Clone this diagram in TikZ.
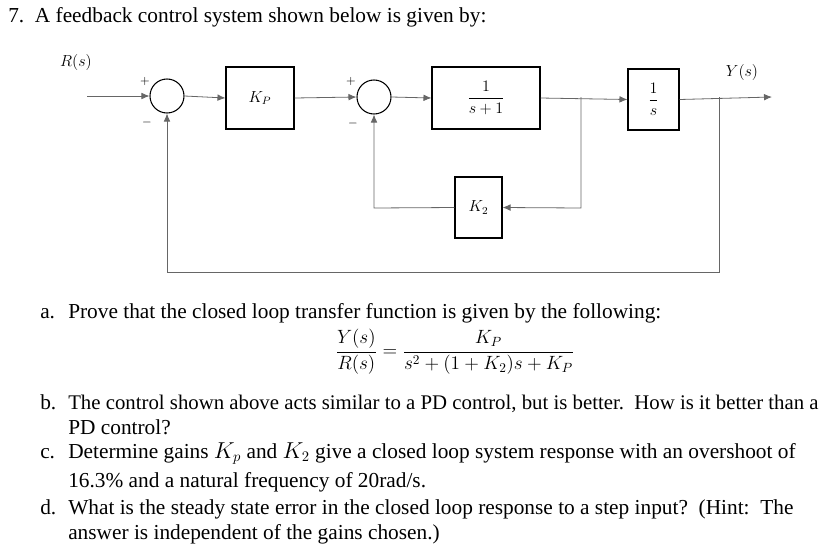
\documentclass[tikz,border=0pt]{standalone}
\usepackage{fontspec}
\setmainfont{Liberation Serif}
\usetikzlibrary{arrows.meta}
\begin{document}
\begin{tikzpicture}[x=0.75pt,y=-0.75pt,
  every node/.style={font=\fontsize{12}{14}\selectfont},
  blk/.style={draw,thick,minimum width=#1*0.75pt,inner sep=0pt},
  sumnode/.style={draw,thick,circle,minimum size=34*0.75pt,inner sep=0pt},
  sig/.style={draw=gray!80!black,semithick,-{Latex[length=6pt,width=5pt]}},
  txt/.style={anchor=base west,inner sep=0pt,font=\fontsize{16}{18}\selectfont},
  lab/.style={font=\small}]
\useasboundingbox (0,0) rectangle (835,547);
% diagram
\coordinate (in) at (87,96);
\node[sumnode] (s1) at (167,96) {};
\node[blk=68,minimum height=62*0.75pt] (kp) at (260,98) {$K_P$};
\node[sumnode] (s2) at (374,97) {};
\node[blk=108,minimum height=62*0.75pt] (g1) at (486,98) {$\displaystyle\frac{1}{s+1}$};
\node[blk=51,minimum height=61*0.75pt] (g2) at (653.5,99.5) {$\displaystyle\frac{1}{s}$};
\node[blk=47,minimum height=61*0.75pt] (k2) at (478.5,207.5) {$K_2$};
\coordinate (b1) at (581,97);
\coordinate (b2) at (719,97);
\coordinate (out) at (772,97);
\coordinate (fb1) at (581,208);
\coordinate (fb2) at (374,208);
\coordinate (ob1) at (719,272);
\coordinate (ob2) at (167,272);
\draw[sig] (in) -- (s1.west);
\draw[sig] (s1.east) -- (kp.west);
\draw[sig] (kp.east) -- (s2.west);
\draw[sig] (s2.east) -- (g1.west);
\draw[sig] (g1.east) -- (g2.west);
\draw[sig] (g2.east) -- (out);
\draw[sig] (b1) -- (fb1) -- (k2.east);
\draw[sig] (k2.west) -- (fb2) -- (s2.south);
\draw[sig] (b2) -- (ob1) -- (ob2) -- (s1.south);
\node[lab] (p1) at (145,81) {$+$};
\node[lab] (m1) at (147,122) {$-$};
\node[lab] (p2) at (351,81) {$+$};
\node[lab] (m2) at (353,123) {$-$};
\node (rs) at (76,62) {$R(s)$};
\node (ys) at (742,72) {$Y(s)$};
% text
\node[txt] (t0) at (8,22) {7.\ \ A feedback control system shown below is given by:};
\node[txt] (ta) at (40,318) {a.};
\node[txt] (ta1) at (68,318) {Prove that the closed loop transfer function is given by the following:};
\node[font=\fontsize{14.5}{17}\selectfont] (eq) at (455,352) {$\displaystyle\frac{Y(s)}{R(s)}=\frac{K_P}{s^2+(1+K_2)s+K_P}$};
\node[txt] (tb) at (40,409) {b.};
\node[txt,font=\fontsize{15.6}{18}\selectfont] (tb1) at (68,409) {The control shown above acts similar to a PD control, but is better.\ \ How is it better than a};
\node[txt] (tb2) at (68,434) {PD control?};
\node[txt] (tc) at (40,458) {c.};
\node[txt] (tc1) at (68,458) {Determine gains $K_p$ and $K_2$ give a closed loop system response with an overshoot of};
\node[txt] (tc2) at (68,487) {16.3\% and a natural frequency of 20rad/s.};
\node[txt] (td) at (40,514) {d.};
\node[txt] (td1) at (68,514) {What is the steady state error in the closed loop response to a step input?\ \ (Hint:\ \ The};
\node[txt] (td2) at (68,539) {answer is independent of the gains chosen.)};
\end{tikzpicture}
\end{document}
